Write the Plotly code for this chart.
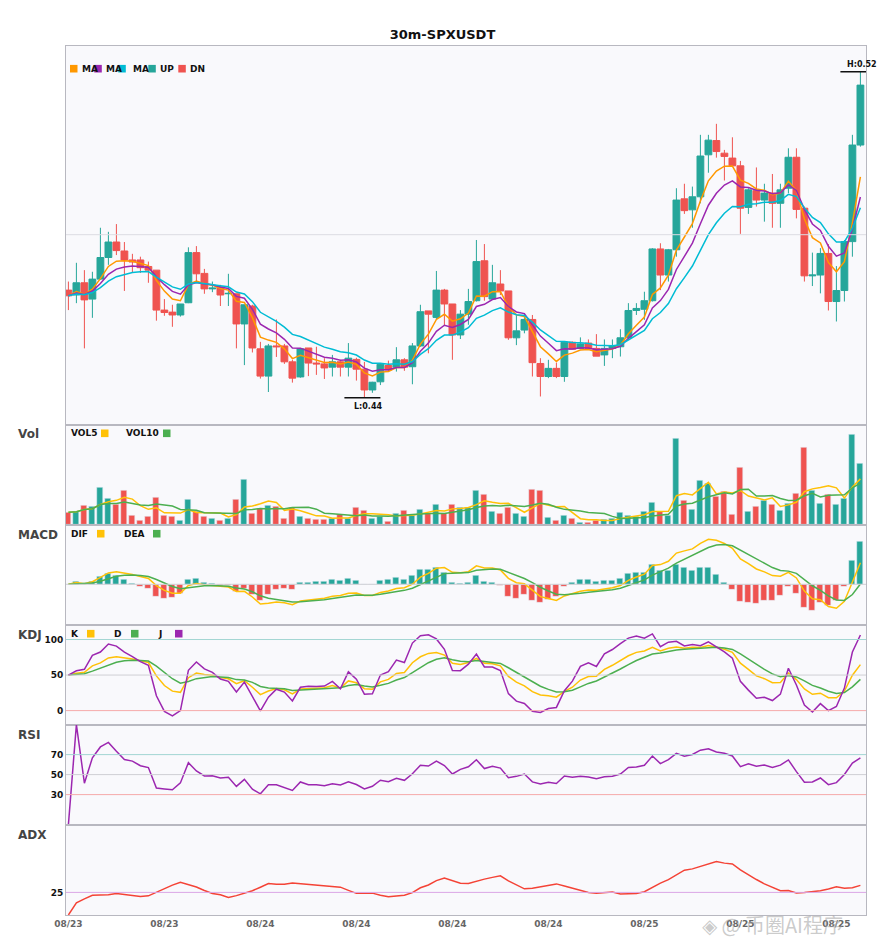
import numpy as np
import pandas as pd
import plotly.graph_objects as go
from plotly.subplots import make_subplots

# 30m SPXUSDT candles (100 bars)
open_ = [0.4664, 0.4652, 0.4682, 0.4642, 0.4691, 0.4744, 0.4782, 0.4760, 0.4738, 0.4738,
         0.4722, 0.4713, 0.4615, 0.4610, 0.4603, 0.4633, 0.4756, 0.4705, 0.4667, 0.4672,
         0.4655, 0.4655, 0.4581, 0.4625, 0.4520, 0.4453, 0.4527, 0.4527, 0.4488, 0.4451,
         0.4522, 0.4485, 0.4483, 0.4475, 0.4488, 0.4475, 0.4494, 0.4470, 0.4419, 0.4439,
         0.4479, 0.4475, 0.4493, 0.4476, 0.4527, 0.4613, 0.4597, 0.4664, 0.4630, 0.4554,
         0.4605, 0.4638, 0.4736, 0.4642, 0.4679, 0.4662, 0.4547, 0.4566, 0.4592, 0.4484,
         0.4452, 0.4472, 0.4452, 0.4536, 0.4521, 0.4534, 0.4521, 0.4505, 0.4521, 0.4525,
         0.4547, 0.4614, 0.4617, 0.4638, 0.4765, 0.4701, 0.4763, 0.4888, 0.4861, 0.4893,
         0.4996, 0.5031, 0.5000, 0.4988, 0.4969, 0.4867, 0.4908, 0.4885, 0.4902, 0.4877,
         0.4914, 0.4990, 0.4865, 0.4699, 0.4701, 0.4754, 0.4636, 0.4663, 0.4783, 0.5020]
high = [0.4685, 0.4731, 0.4713, 0.4709, 0.4817, 0.4807, 0.4826, 0.4782, 0.4753, 0.4746,
        0.4734, 0.4713, 0.4642, 0.4628, 0.4630, 0.4769, 0.4772, 0.4716, 0.4685, 0.4677,
        0.4704, 0.4655, 0.4628, 0.4628, 0.4537, 0.4532, 0.4592, 0.4532, 0.4493, 0.4522,
        0.4522, 0.4525, 0.4497, 0.4505, 0.4493, 0.4534, 0.4498, 0.4488, 0.4439, 0.4484,
        0.4491, 0.4524, 0.4497, 0.4534, 0.4628, 0.4613, 0.4711, 0.4667, 0.4630, 0.4615,
        0.4667, 0.4787, 0.4777, 0.4726, 0.4713, 0.4662, 0.4603, 0.4607, 0.4603, 0.4497,
        0.4493, 0.4486, 0.4536, 0.4538, 0.4548, 0.4543, 0.4556, 0.4543, 0.4543, 0.4568,
        0.4632, 0.4632, 0.4660, 0.4767, 0.4779, 0.4765, 0.4914, 0.4925, 0.4918, 0.5045,
        0.5045, 0.5072, 0.5008, 0.5039, 0.4981, 0.4914, 0.4965, 0.4925, 0.4949, 0.4925,
        0.5012, 0.5012, 0.4869, 0.4756, 0.4767, 0.4777, 0.4723, 0.4787, 0.5045, 0.5200]
low = [0.4615, 0.4632, 0.4521, 0.4596, 0.4689, 0.4726, 0.4750, 0.4662, 0.4706, 0.4706,
       0.4682, 0.4589, 0.4601, 0.4574, 0.4599, 0.4632, 0.4685, 0.4655, 0.4659, 0.4625,
       0.4625, 0.4521, 0.4480, 0.4511, 0.4447, 0.4414, 0.4500, 0.4483, 0.4437, 0.4449,
       0.4453, 0.4456, 0.4446, 0.4452, 0.4452, 0.4452, 0.4442, 0.4400, 0.4412, 0.4431,
       0.4464, 0.4464, 0.4466, 0.4433, 0.4525, 0.4509, 0.4591, 0.4577, 0.4493, 0.4544,
       0.4579, 0.4636, 0.4638, 0.4640, 0.4652, 0.4542, 0.4529, 0.4558, 0.4452, 0.4403,
       0.4448, 0.4448, 0.4439, 0.4519, 0.4519, 0.4519, 0.4502, 0.4478, 0.4497, 0.4501,
       0.4542, 0.4603, 0.4591, 0.4636, 0.4664, 0.4685, 0.4746, 0.4851, 0.4817, 0.4877,
       0.4952, 0.4989, 0.4933, 0.4969, 0.4802, 0.4851, 0.4869, 0.4832, 0.4817, 0.4817,
       0.4902, 0.4840, 0.4685, 0.4674, 0.4656, 0.4614, 0.4587, 0.4636, 0.4746, 0.5016]
close = [0.4650, 0.4682, 0.4640, 0.4691, 0.4744, 0.4782, 0.4761, 0.4738, 0.4733, 0.4719,
         0.4713, 0.4615, 0.4609, 0.4603, 0.4630, 0.4756, 0.4704, 0.4667, 0.4669, 0.4652,
         0.4656, 0.4581, 0.4628, 0.4522, 0.4453, 0.4527, 0.4525, 0.4488, 0.4448, 0.4520,
         0.4485, 0.4483, 0.4473, 0.4488, 0.4475, 0.4497, 0.4470, 0.4419, 0.4438, 0.4482,
         0.4468, 0.4493, 0.4475, 0.4527, 0.4611, 0.4605, 0.4664, 0.4630, 0.4554, 0.4605,
         0.4636, 0.4734, 0.4648, 0.4682, 0.4662, 0.4547, 0.4564, 0.4592, 0.4486, 0.4452,
         0.4472, 0.4452, 0.4536, 0.4519, 0.4532, 0.4521, 0.4502, 0.4521, 0.4527, 0.4547,
         0.4614, 0.4619, 0.4638, 0.4765, 0.4701, 0.4763, 0.4885, 0.4859, 0.4893, 0.4993,
         0.5032, 0.5004, 0.4992, 0.4969, 0.4865, 0.4910, 0.4885, 0.4902, 0.4877, 0.4910,
         0.4990, 0.4862, 0.4699, 0.4701, 0.4754, 0.4636, 0.4663, 0.4783, 0.5020, 0.5167]
# volume in thousands
volume = [37, 40, 58, 55, 112, 79, 60, 103, 28, 13,
          25, 82, 28, 25, 13, 76, 40, 25, 19, 13,
          19, 76, 136, 34, 48, 58, 55, 19, 52, 25,
          19, 16, 16, 19, 30, 19, 52, 43, 19, 25,
          10, 34, 43, 28, 46, 34, 61, 34, 61, 52,
          50, 103, 91, 40, 34, 52, 34, 25, 106, 103,
          22, 13, 28, 19, 7, 7, 13, 16, 19, 37,
          28, 25, 40, 67, 40, 28, 259, 73, 46, 133,
          124, 85, 100, 31, 172, 40, 55, 73, 61, 43,
          64, 94, 232, 103, 64, 91, 61, 79, 271, 184]

tick_idx = [0, 12, 24, 36, 48, 60, 72, 84, 96]
tick_text = ["08/23", "08/23", "08/24", "08/24", "08/24", "08/24", "08/25", "08/25", "08/25"]

UP = "#26A69A"
DN = "#EF5350"
YEL = "#FFC107"
GRN = "#4CAF50"
PUR = "#9C27B0"
FONT = "DejaVu Sans"

df = pd.DataFrame(dict(open=open_, high=high, low=low, close=close, vol=volume))
x = np.arange(len(df))
bar_col = [UP if c >= o else DN for o, c in zip(df.open, df.close)]


def ema(s, n):
    return s.ewm(span=n, adjust=False).mean()


# price lines (EMA 5 / 8 / 13)
for n in (5, 8, 13):
    df[f"ma{n}"] = ema(df.close, n)
df["vol5"] = df.vol.rolling(5, min_periods=1).mean()
df["vol10"] = df.vol.rolling(10, min_periods=1).mean()

# fast MACD 6/13/5
dif = ema(df.close, 6) - ema(df.close, 13)
dea = ema(dif, 5)
hist = 2 * (dif - dea)

# KDJ 9/3/3
low9 = df.low.rolling(9, min_periods=1).min()
high9 = df.high.rolling(9, min_periods=1).max()
rsv = ((df.close - low9) / (high9 - low9) * 100).fillna(50)
k_list, d_list = [], []
k = d = 50.0
for r in rsv:
    k = 2 / 3 * k + r / 3
    d = 2 / 3 * d + k / 3
    k_list.append(k)
    d_list.append(d)
K = np.array(k_list)
D = np.array(d_list)
J = 3 * K - 2 * D

# RSI 14
chg = df.close.diff().fillna(0)
gain = chg.clip(lower=0).ewm(alpha=1 / 14, adjust=False).mean()
loss = (-chg).clip(lower=0).ewm(alpha=1 / 14, adjust=False).mean()
rsi = (100 * gain / (gain + loss)).fillna(0)

# ADX 14
up_move = df.high.diff()
dn_move = -df.low.diff()
plus_dm = pd.Series(np.where((up_move > dn_move) & (up_move > 0), up_move, 0.0))
minus_dm = pd.Series(np.where((dn_move > up_move) & (dn_move > 0), dn_move, 0.0))
pdi = ema(plus_dm, 14)
mdi = ema(minus_dm, 14)
dx = (100 * (pdi - mdi).abs() / (pdi + mdi)).fillna(0)
adx = ema(dx, 14)

fig = make_subplots(rows=6, cols=1, shared_xaxes=True, vertical_spacing=0,
                    row_heights=[378.6, 100, 100, 100, 100, 90.4])

fig.add_trace(go.Candlestick(x=x, open=df.open, high=df.high, low=df.low, close=df.close,
                             increasing=dict(line=dict(color=UP, width=1), fillcolor=UP),
                             decreasing=dict(line=dict(color=DN, width=1), fillcolor=DN),
                             whiskerwidth=0), row=1, col=1)
for col, c in (("ma5", "#FF9800"), ("ma8", PUR), ("ma13", "#00BCD4")):
    fig.add_trace(go.Scatter(x=x, y=df[col], mode="lines", line=dict(color=c, width=1.5)), row=1, col=1)

fig.add_trace(go.Bar(x=x, y=df.vol, marker_color=bar_col, width=0.75), row=2, col=1)
fig.add_trace(go.Scatter(x=x, y=df.vol5, mode="lines", line=dict(color=YEL, width=1.5)), row=2, col=1)
fig.add_trace(go.Scatter(x=x, y=df.vol10, mode="lines", line=dict(color=GRN, width=1.5)), row=2, col=1)

fig.add_trace(go.Bar(x=x, y=hist, marker_color=[UP if v >= 0 else DN for v in hist], width=0.75), row=3, col=1)
fig.add_trace(go.Scatter(x=x, y=dif, mode="lines", line=dict(color=YEL, width=1.5)), row=3, col=1)
fig.add_trace(go.Scatter(x=x, y=dea, mode="lines", line=dict(color=GRN, width=1.5)), row=3, col=1)

fig.add_trace(go.Scatter(x=x, y=K, mode="lines", line=dict(color=YEL, width=1.5)), row=4, col=1)
fig.add_trace(go.Scatter(x=x, y=D, mode="lines", line=dict(color=GRN, width=1.5)), row=4, col=1)
fig.add_trace(go.Scatter(x=x, y=J, mode="lines", line=dict(color=PUR, width=1.5)), row=4, col=1)

fig.add_trace(go.Scatter(x=x, y=rsi, mode="lines", line=dict(color=PUR, width=1.5)), row=5, col=1)
fig.add_trace(go.Scatter(x=x, y=adx, mode="lines", line=dict(color="#F44336", width=1.5)), row=6, col=1)

# reference lines
fig.add_hline(y=0.48, line=dict(color="#dcdce2", width=1), row=1, col=1)
fig.add_hline(y=0, line=dict(color="#cfcfd4", width=1), row=3, col=1)
for val, c, row in ((100, "#a3d6d3", 4), (50, "#cfcfd4", 4), (0, "#f5aaaa", 4),
                    (70, "#a3d6d3", 5), (50, "#cfcfd4", 5), (30, "#f5aaaa", 5),
                    (25, "#dba6e6", 6)):
    fig.add_hline(y=val, line=dict(color=c, width=1), row=row, col=1)

# axes
axis_line = dict(showline=True, mirror=True, linecolor="#b8b8c0", linewidth=1,
                 showgrid=False, zeroline=False)
fig.update_xaxes(range=[-0.3, 99.7], rangeslider_visible=False, showticklabels=False,
                 ticks="", **axis_line)
fig.update_xaxes(showticklabels=True, tickvals=tick_idx, ticktext=tick_text,
                 tickfont=dict(family=FONT, size=9, color="#666666", weight="bold"), row=6, col=1)
fig.update_yaxes(showticklabels=False, ticks="", **axis_line)
tick_font = dict(family=FONT, size=9, color="#111111", weight="bold")
fig.update_yaxes(range=[0.4334, 0.5263], row=1, col=1)
fig.update_yaxes(range=[0, 300], row=2, col=1)
top = max(hist.max(), dif.max(), dea.max()) * 1.327
fig.update_yaxes(range=[-0.675 * top, top], row=3, col=1)
fig.update_yaxes(range=[-19.7, 121], tickvals=[0, 50, 100], showticklabels=True,
                 tickfont=tick_font, row=4, col=1)
fig.update_yaxes(range=[0, 100], tickvals=[30, 50, 70], showticklabels=True,
                 tickfont=tick_font, row=5, col=1)
fig.update_yaxes(range=[0, 100], tickvals=[25], showticklabels=True,
                 tickfont=tick_font, row=6, col=1)

# high / low markers
hi_i = int(df.high.idxmax())
lo_i = int(df.low.idxmin())
hi_v = df.high.max()
lo_v = df.low.min()
fig.add_shape(type="line", xref="x", yref="y", x0=hi_i - 2.5, x1=hi_i + 2, y0=hi_v, y1=hi_v,
              line=dict(color="#111111", width=1.5))
fig.add_shape(type="line", xref="x", yref="y", x0=lo_i - 2.5, x1=lo_i + 2, y0=lo_v, y1=lo_v,
              line=dict(color="#111111", width=1.5))
fig.add_annotation(x=hi_i + 0.2, y=hi_v, xref="x", yref="y", text=f"H:{hi_v:.2f}", showarrow=False,
                   yanchor="bottom", yshift=1, font=dict(family=FONT, size=8, color="#111111", weight="bold"))
fig.add_annotation(x=lo_i + 0.45, y=lo_v, xref="x", yref="y", text=f"L:{lo_v:.2f}", showarrow=False,
                   yanchor="top", yshift=-2, font=dict(family=FONT, size=8, color="#111111", weight="bold"))

# page pixels -> paper coords (the page body adds an 8px offset)
OFF = 8
W, H = 885 - 2 * OFF, 950 - 2 * OFF
L, R, T, B = 66 - OFF, 866 - OFF, 46 - OFF, 915 - OFF


def px(v):
    return (v - OFF - L) / (R - L)


def py(v):
    return (B - (v - OFF)) / (B - T)


for name, ypix in (("Vol", 434), ("MACD", 535), ("KDJ", 635), ("RSI", 735), ("ADX", 835)):
    fig.add_annotation(x=px(16), y=py(ypix), xref="paper", yref="paper", text=name, showarrow=False,
                       xanchor="left", yanchor="middle",
                       font=dict(family=FONT, size=12, color="#444444", weight="bold"))

legends = [
    (68.7, [("MA", 81), ("MA", 105), ("MA", 131.7), ("UP", 159.3), ("DN", 189.3)],
     [("#FF9800", 70), (PUR, 94.3), ("#00BCD4", 118.3), (UP, 148.3), (DN, 178.3)]),
    (433.3, [("VOL5", 70), ("VOL10", 125)], [(YEL, 101), (GRN, 163)]),
    (533.7, [("DIF", 70), ("DEA", 123)], [(YEL, 97), (GRN, 153)]),
    (633.7, [("K", 70), ("D", 113), ("J", 157)], [(YEL, 87), (GRN, 131), (PUR, 175)]),
]
for ypix, texts, boxes in legends:
    for t, xpix in texts:
        fig.add_annotation(x=px(xpix - 1), y=py(ypix), xref="paper", yref="paper", text=t,
                           showarrow=False, xanchor="left", yanchor="middle",
                           font=dict(family=FONT, size=9, color="#111111", weight="bold"))
    for c, xpix in boxes:
        fig.add_shape(type="rect", xref="paper", yref="paper", x0=px(xpix), x1=px(xpix + 7.5),
                      y0=py(ypix + 3.8), y1=py(ypix - 3.8), fillcolor=c, line=dict(width=0))

# watermark of the source image
fig.add_annotation(x=px(700), y=py(925), xref="paper", yref="paper", text="◈ @ 币圈AI程序",
                   showarrow=False, xanchor="left", yanchor="middle",
                   font=dict(family="Noto Sans CJK SC", size=20, color="rgba(160,160,160,0.55)"))

fig.update_layout(
    width=W, height=H,
    margin=dict(l=L, r=W - R, t=T, b=H - B),
    title=dict(text="30m-SPXUSDT", x=0.5, xanchor="center", y=1 - (34 - OFF) / H, yanchor="middle",
               font=dict(family=FONT, size=13, color="#111111", weight="bold")),
    paper_bgcolor="white",
    plot_bgcolor="#F9F9FC",
    showlegend=False,
    boxgap=0.15, boxgroupgap=0,
    bargap=0,
)

fig.write_html("out.html")
